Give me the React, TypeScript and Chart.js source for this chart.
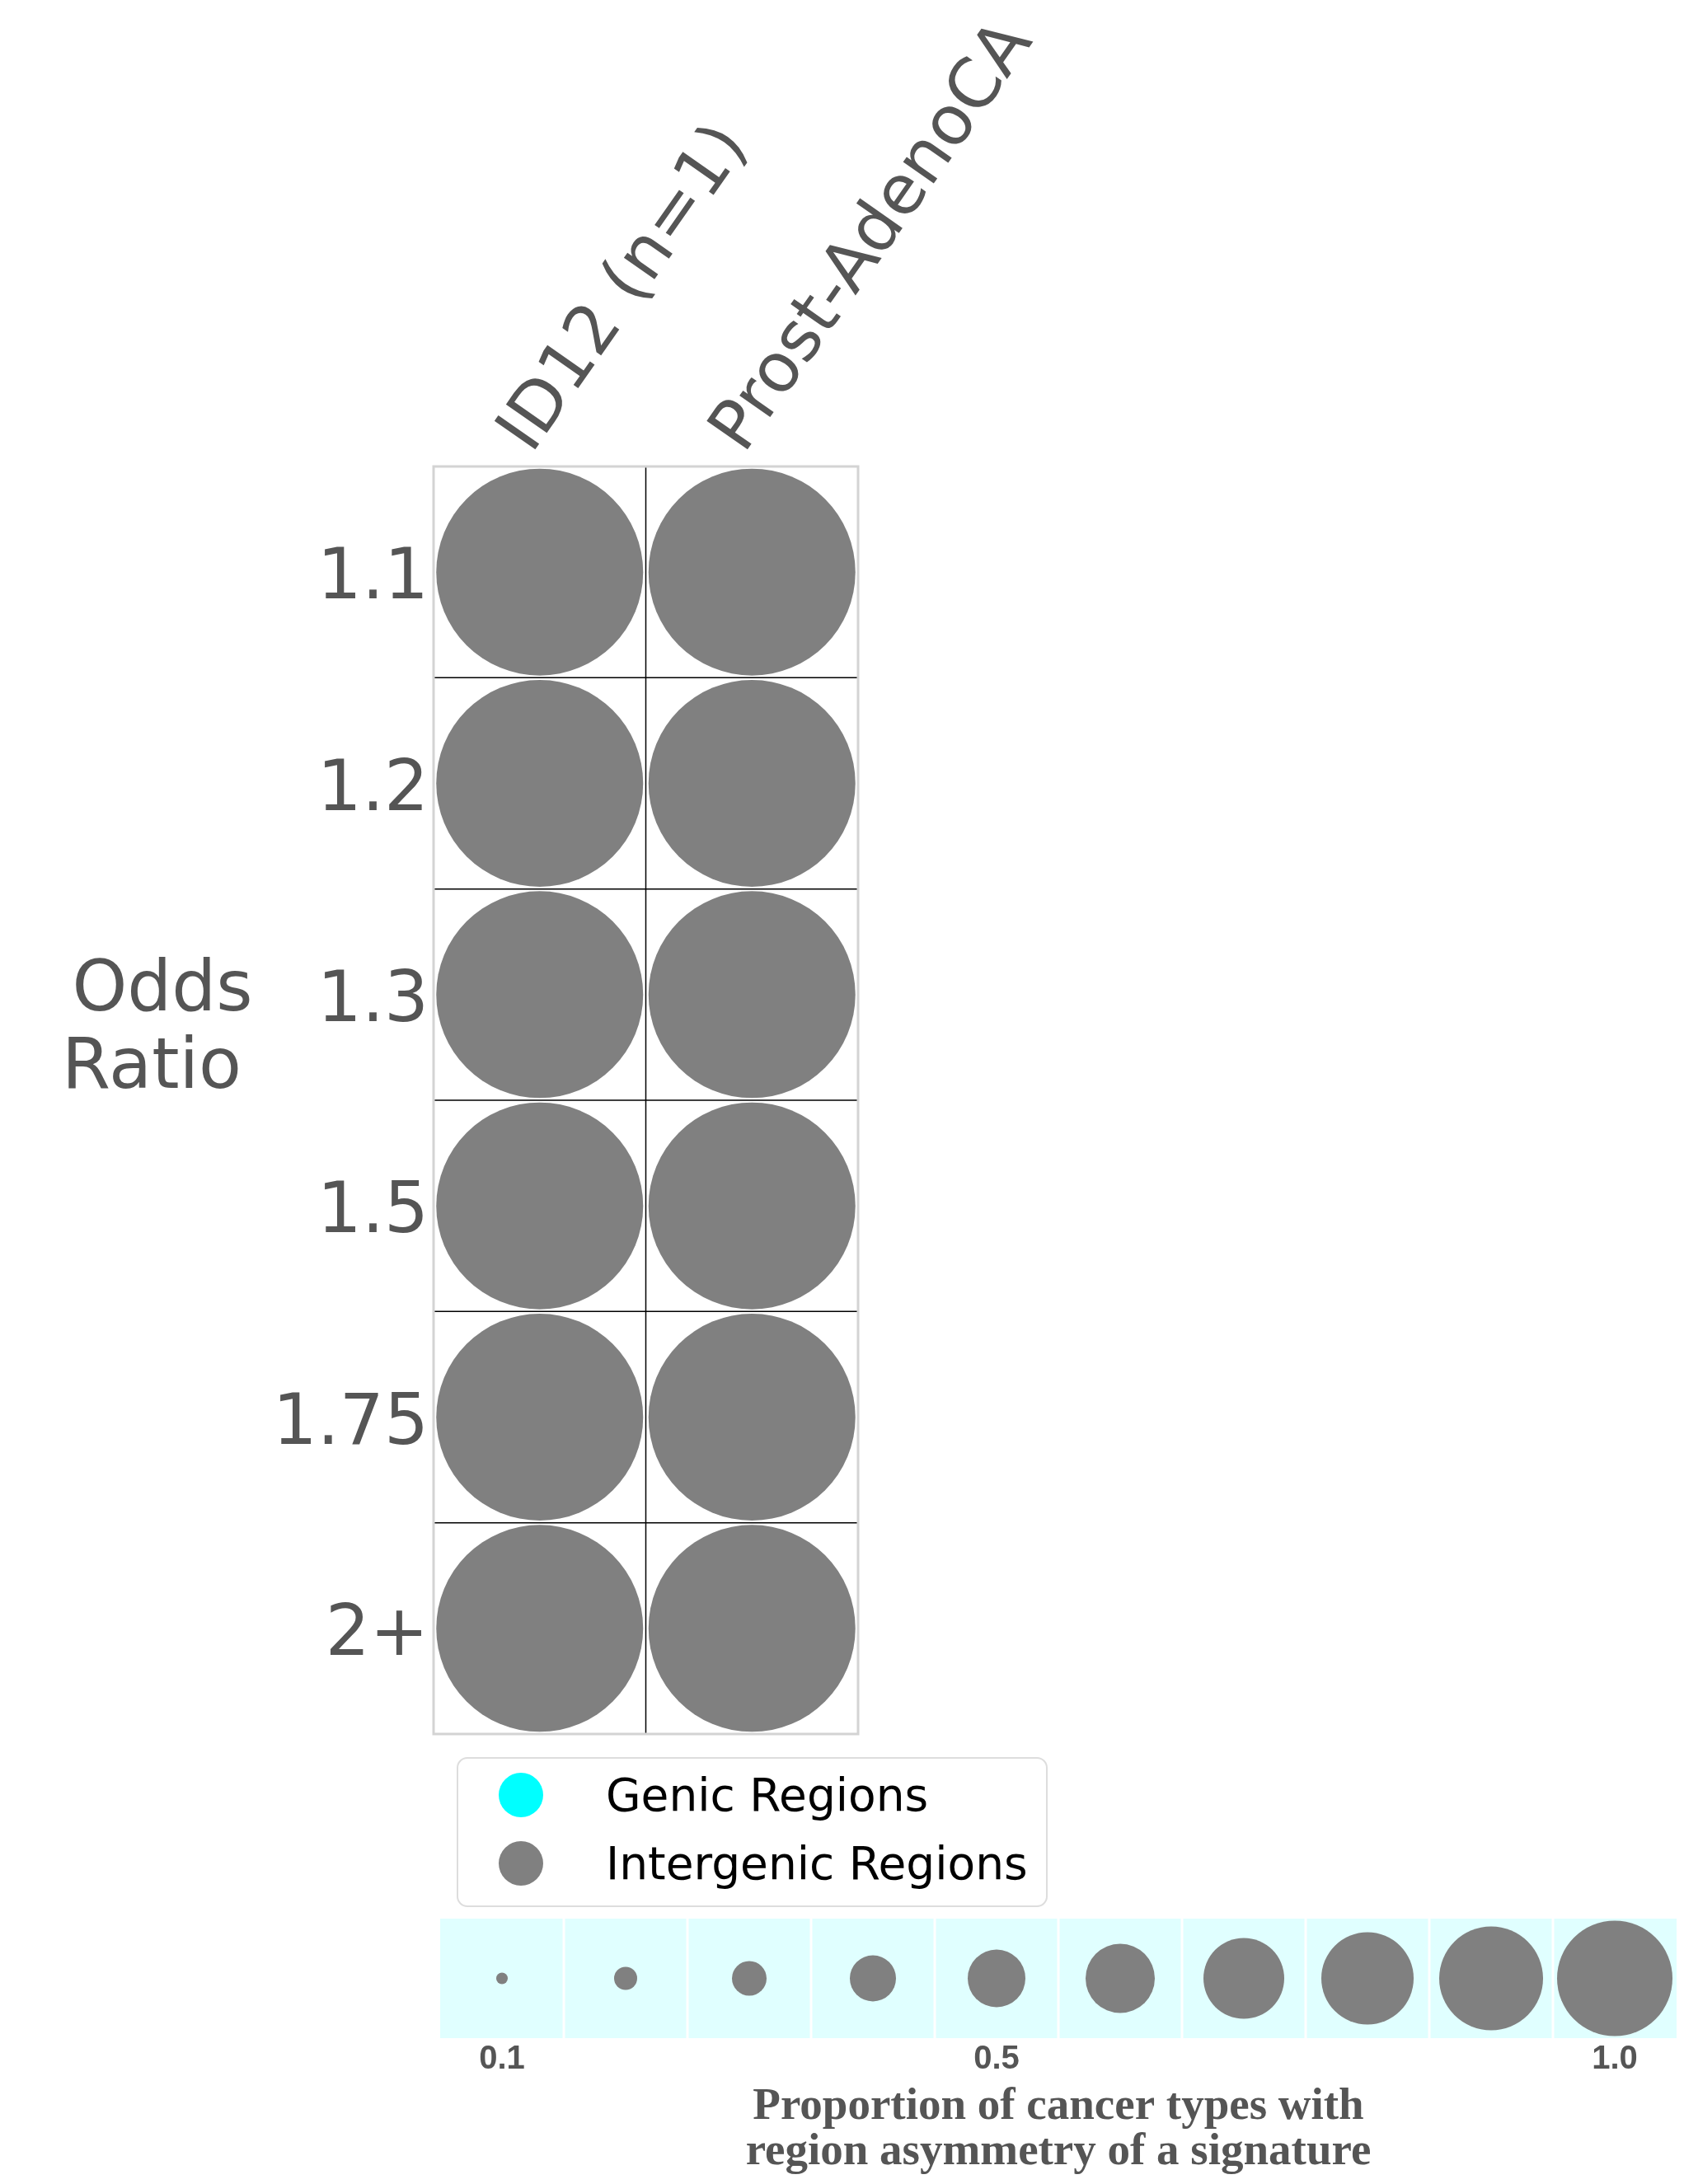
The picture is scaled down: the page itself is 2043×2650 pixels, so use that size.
import React, { useEffect, useRef } from 'react';
import { Chart, registerables } from 'chart.js';

Chart.register(...registerables);

// ---------------- data ----------------
const columnLabels = ['ID12 (n=1)', 'Prost-AdenoCA'];
const oddsRatioLabels = ['1.1', '1.2', '1.3', '1.5', '1.75', '2+'];
// proportion of cancer types (per odds-ratio row) with intergenic / genic asymmetry
const intergenicID12 = [1, 1, 1, 1, 1, 1];
const intergenicProst = [1, 1, 1, 1, 1, 1];
const genicID12 = [0, 0, 0, 0, 0, 0];
const genicProst = [0, 0, 0, 0, 0, 0];
const legendLabels = ['Genic Regions', 'Intergenic Regions'];
const yTitleLines = ['Odds', 'Ratio'];
const sizeLegendValues = [0.1, 0.2, 0.3, 0.4, 0.5, 0.6, 0.7, 0.8, 0.9, 1.0];
const sizeLegendTickValues = [0.1, 0.5, 1.0];
const sizeLegendTickLabels = ['0.1', '0.5', '1.0'];
const sizeTitleLines = ['Proportion of cancer types with', 'region asymmetry of a signature'];

// ---------------- styles ----------------
const W = 2043;
const H = 2650;
const GRID = { left: 526, right: 1041, top: 566, bottom: 2104 };
const CELL_R = 125.5;
const STRIP_TOP = 2300;
const STRIP_H = 350;
const STRIP = { left: 534, right: 2034, top: 28, bottom: 173 };
const STRIP_R = 70;
const GRAY = '#808080';
const CYAN = '#00ffff';
const TEXT = '#555555';
const SANS = '"DejaVu Sans"';

function cellPoints(cols: number[][], scale: number) {
  const pts: { x: number; y: number; r: number }[] = [];
  cols.forEach((col, c) =>
    col.forEach((v, r) => {
      if (v > 0) pts.push({ x: c, y: r, r: v * scale });
    })
  );
  return pts;
}

const mainPlugin = {
  id: 'gridDecor',
  beforeDatasetsDraw(chart: any) {
    const ctx = chart.ctx;
    const xs = chart.scales.x;
    const ys = chart.scales.y;
    const a = chart.chartArea;
    ctx.save();
    // inner lines
    ctx.strokeStyle = '#000000';
    ctx.lineWidth = 1.5;
    for (let c = 0; c < columnLabels.length - 1; c++) {
      const x = xs.getPixelForValue(c + 0.5);
      ctx.beginPath();
      ctx.moveTo(x, a.top);
      ctx.lineTo(x, a.bottom);
      ctx.stroke();
    }
    for (let r = 0; r < oddsRatioLabels.length - 1; r++) {
      const y = ys.getPixelForValue(r + 0.5);
      ctx.beginPath();
      ctx.moveTo(a.left, y);
      ctx.lineTo(a.right, y);
      ctx.stroke();
    }
    // outer frame
    ctx.strokeStyle = '#d3d3d3';
    ctx.lineWidth = 3;
    ctx.strokeRect(a.left, a.top, a.right - a.left, a.bottom - a.top);
    ctx.restore();
  },
  afterDraw(chart: any) {
    const ctx = chart.ctx;
    const xs = chart.scales.x;
    const ys = chart.scales.y;
    const a = chart.chartArea;
    ctx.save();
    ctx.fillStyle = TEXT;
    // y tick labels
    ctx.font = `85px ${SANS}`;
    ctx.textAlign = 'right';
    ctx.textBaseline = 'alphabetic';
    oddsRatioLabels.forEach((lab, i) => {
      const y = ys.getPixelForValue(i);
      ctx.fillText(lab, a.left - 6, y + 32);
    });
    // y title
    ctx.textAlign = 'center';
    ctx.fillText(yTitleLines[0], 197, 1226);
    ctx.fillText(yTitleLines[1], 184, 1320);
    // column labels (rotated)
    ctx.font = `83px ${SANS}`;
    ctx.textAlign = 'left';
    columnLabels.forEach((lab, i) => {
      const x = xs.getPixelForValue(i);
      ctx.save();
      ctx.translate(x - 10, a.top - 14);
      ctx.rotate((-55 * Math.PI) / 180);
      ctx.fillText(lab, 0, 0);
      ctx.restore();
    });
    // legend
    const lx = 555, ly = 2133, lw = 715, lh = 180, rad = 12;
    ctx.beginPath();
    ctx.moveTo(lx + rad, ly);
    ctx.arcTo(lx + lw, ly, lx + lw, ly + lh, rad);
    ctx.arcTo(lx + lw, ly + lh, lx, ly + lh, rad);
    ctx.arcTo(lx, ly + lh, lx, ly, rad);
    ctx.arcTo(lx, ly, lx + lw, ly, rad);
    ctx.closePath();
    ctx.fillStyle = '#ffffff';
    ctx.fill();
    ctx.strokeStyle = '#dddddd';
    ctx.lineWidth = 2;
    ctx.stroke();
    ctx.font = `55px ${SANS}`;
    ctx.textAlign = 'left';
    chart.data.datasets.forEach((ds: any, i: number) => {
      const cy = 2178 + i * 83;
      ctx.beginPath();
      ctx.arc(632, cy, 27, 0, Math.PI * 2);
      ctx.fillStyle = ds.backgroundColor;
      ctx.fill();
      ctx.fillStyle = '#000000';
      ctx.fillText(ds.label, 735, cy + 19);
    });
    ctx.restore();
  },
};

const stripPlugin = {
  id: 'stripDecor',
  beforeDatasetsDraw(chart: any) {
    const ctx = chart.ctx;
    const xs = chart.scales.x;
    const a = chart.chartArea;
    ctx.save();
    ctx.fillStyle = '#e0ffff';
    ctx.fillRect(a.left, a.top, a.right - a.left, a.bottom - a.top);
    ctx.strokeStyle = '#ffffff';
    ctx.lineWidth = 3;
    for (let i = 0; i < sizeLegendValues.length - 1; i++) {
      const x = xs.getPixelForValue((sizeLegendValues[i] + sizeLegendValues[i + 1]) / 2);
      ctx.beginPath();
      ctx.moveTo(x, a.top);
      ctx.lineTo(x, a.bottom);
      ctx.stroke();
    }
    ctx.restore();
  },
  afterDraw(chart: any) {
    const ctx = chart.ctx;
    const xs = chart.scales.x;
    const a = chart.chartArea;
    ctx.save();
    ctx.fillStyle = TEXT;
    ctx.textAlign = 'center';
    ctx.textBaseline = 'alphabetic';
    ctx.font = `bold 40px "Liberation Sans"`;
    sizeLegendTickValues.forEach((v, i) => {
      ctx.fillText(sizeLegendTickLabels[i], xs.getPixelForValue(v), 210);
    });
    ctx.font = `bold 55px "Liberation Serif"`;
    const cx = (a.left + a.right) / 2;
    ctx.fillText(sizeTitleLines[0], cx, 271);
    ctx.fillText(sizeTitleLines[1], cx, 326);
    ctx.restore();
  },
};

export default function App() {
  const mainRef = useRef<HTMLCanvasElement>(null);
  const stripRef = useRef<HTMLCanvasElement>(null);

  useEffect(() => {
    const main = new Chart(mainRef.current as HTMLCanvasElement, {
      type: 'bubble',
      data: {
        datasets: [
          {
            label: legendLabels[0],
            data: cellPoints([genicID12, genicProst], CELL_R),
            backgroundColor: CYAN,
            borderWidth: 0,
            hoverBorderWidth: 0,
            clip: false,
          } as any,
          {
            label: legendLabels[1],
            data: cellPoints([intergenicID12, intergenicProst], CELL_R),
            backgroundColor: GRAY,
            borderWidth: 0,
            hoverBorderWidth: 0,
            clip: false,
          } as any,
        ],
      },
      options: {
        responsive: false,
        animation: false,
        devicePixelRatio: 1,
        events: [],
        layout: {
          autoPadding: false,
          padding: {
            left: GRID.left,
            right: W - GRID.right,
            top: GRID.top,
            bottom: H - GRID.bottom,
          },
        },
        scales: {
          x: { type: 'linear', min: -0.5, max: columnLabels.length - 0.5, display: false },
          y: { type: 'linear', min: -0.5, max: oddsRatioLabels.length - 0.5, reverse: true, display: false },
        },
        plugins: { legend: { display: false }, tooltip: { enabled: false } },
      },
      plugins: [mainPlugin],
    } as any);

    const strip = new Chart(stripRef.current as HTMLCanvasElement, {
      type: 'bubble',
      data: {
        datasets: [
          {
            label: 'size',
            data: sizeLegendValues.map((v) => ({ x: v, y: 0, r: v * STRIP_R })),
            backgroundColor: GRAY,
            borderWidth: 0,
            hoverBorderWidth: 0,
            clip: false,
          } as any,
        ],
      },
      options: {
        responsive: false,
        animation: false,
        devicePixelRatio: 1,
        events: [],
        layout: {
          autoPadding: false,
          padding: {
            left: STRIP.left,
            right: W - STRIP.right,
            top: STRIP.top,
            bottom: STRIP_H - STRIP.bottom,
          },
        },
        scales: {
          x: { type: 'linear', min: 0.05, max: 1.05, display: false },
          y: { type: 'linear', min: -1, max: 1, display: false },
        },
        plugins: { legend: { display: false }, tooltip: { enabled: false } },
      },
      plugins: [stripPlugin],
    } as any);

    return () => {
      main.destroy();
      strip.destroy();
    };
  }, []);

  return (
    <div style={{ position: 'absolute', left: 0, top: 0, width: W, height: H, background: '#ffffff' }}>
      <canvas ref={mainRef} width={W} height={H} style={{ position: 'absolute', left: 0, top: 0 }} />
      <canvas
        ref={stripRef}
        width={W}
        height={STRIP_H}
        style={{ position: 'absolute', left: 0, top: STRIP_TOP }}
      />
    </div>
  );
}
